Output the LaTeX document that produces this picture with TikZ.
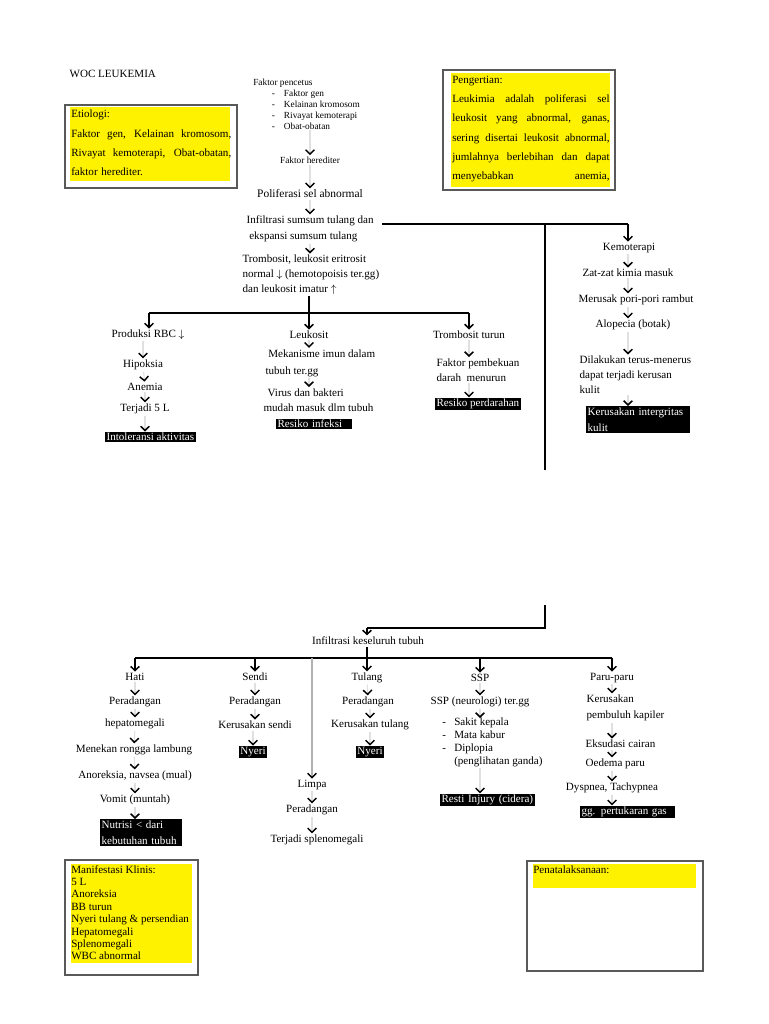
\documentclass[tikz,border=0pt]{standalone}
\usepackage{fontspec}
\setmainfont{Liberation Serif}
\usetikzlibrary{arrows.meta,positioning}

\newcommand{\fs}{\fontsize{8.3}{10}\selectfont}
\newcommand{\fsmall}{\fontsize{7}{8.25}\selectfont}
\newcommand{\itemdash}[1]{\makebox[9pt][l]{-}#1}
\newcommand{\spreadline}[2]{\makebox[#1][s]{\spaceskip=0pt\xspaceskip=0pt\relax #2}}

\begin{document}
\begin{tikzpicture}[x=0.75pt,y=-0.75pt,
    txt/.style={inner sep=1pt,font=\fs,align=center},
    ltxt/.style={txt,anchor=west,align=left},
    warn/.style={fill=black,text=white,inner sep=1pt,font=\fs,anchor=west,align=left},
    flow/.style={every edge/.style={draw=black!12,line width=0.8pt,
                 -{Straight Barb[length=3.2pt,width=6.5pt,line width=1.1pt,color=black]}}},
    stem/.style={every edge/.style={draw=black,line width=0.8pt,
                 -{Straight Barb[length=3.2pt,width=6.5pt,line width=1.1pt]}}},
    trunk/.style={draw,line width=0.9pt},
    frame/.style={draw=black!65,line width=0.9pt},
    note/.style={fill=yellow}]
\useasboundingbox (0,0) rectangle (768,1024);

% heading and the two top boxes
\node[ltxt] (title) at (68,74) {WOC LEUKEMIA};

\draw[frame] (65,105) rectangle (237,188);
\fill[note] (70,107) rectangle (230,181);
\node[anchor=north west,inner sep=0pt,text width=120pt,align=left,
      font=\fontsize{8.3}{14.4}\selectfont] (etiologi) at (71,110)
  {Etiologi:\\
   \spreadline{120pt}{Faktor gen, Kelainan kromosom,}\\
   \spreadline{120pt}{Rivayat kemoterapi, Obat-obatan,}\\
   faktor herediter.};

\draw[frame] (443,70) rectangle (615,190);
\fill[note] (451,73) rectangle (610,187);
\node[anchor=north west,inner sep=0pt,text width=118pt,align=left,
      font=\fontsize{8.3}{14.4}\selectfont] (pengertian) at (452,76)
  {Pengertian:\\
   \spreadline{118pt}{Leukimia adalah poliferasi sel}\\
   \spreadline{118pt}{leukosit yang abnormal, ganas,}\\
   \spreadline{118pt}{sering disertai leukosit abnormal,}\\
   \spreadline{118pt}{jumlahnya berlebihan dan dapat}\\
   \spreadline{118pt}{menyebabkan anemia,}};

% main chain
\node[anchor=north west,inner sep=0pt,align=left,font=\fsmall] (pencetus) at (253,79)
  {Faktor pencetus\\
   \hspace*{14pt}\itemdash{Faktor gen}\\
   \hspace*{14pt}\itemdash{Kelainan kromosom}\\
   \hspace*{14pt}\itemdash{Rivayat kemoterapi}\\
   \hspace*{14pt}\itemdash{Obat-obatan}};
\node[txt,font=\fsmall] (herediter) at (310,160) {Faktor herediter};
\node[txt,font=\fontsize{8.6}{10}\selectfont] (poliferasi) at (310,194) {Poliferasi sel abnormal};
\node[ltxt,font=\fontsize{8.3}{12}\selectfont] (infiltrasi) at (245,229)
  {Infiltrasi sumsum tulang dan\\\hspace*{2pt}ekspansi sumsum tulang};
\node[ltxt,font=\fontsize{8.3}{11.25}\selectfont] (trombosit) at (241,275)
  {Trombosit, leukosit eritrosit\\
   normal $\downarrow$ (hemotopoisis ter.gg)\\
   dan leukosit imatur $\uparrow$};

\path[flow] (pencetus.south -| herediter) edge (herediter)
  (herediter) edge (poliferasi)
  (poliferasi) edge (poliferasi |- infiltrasi.north)
  (infiltrasi.south -| poliferasi) edge (poliferasi |- trombosit.north);

% first branching
\coordinate (j1) at (309,313);
\coordinate (jL) at (149,313);
\coordinate (jR) at (469,313);
\draw[trunk] (trombosit.south -| j1) -- (j1);
\draw[trunk] (jL) -- (jR);

\node[txt] (produksi) at (148,335) {Produksi RBC $\downarrow$};
\node[txt] (hipoksia) at (143,365) {Hipoksia};
\node[txt] (anemia) at (145,387) {Anemia};
\node[txt] (limaL) at (145,409) {Terjadi 5 L};
\node[warn] (intoleransi) at (105,437) {Intoleransi aktivitas};

\node[txt] (leukosit) at (309,335) {Leukosit};
\node[ltxt,font=\fontsize{8.3}{12.75}\selectfont] (mekanisme) at (264,363)
  {\hspace*{2pt}Mekanisme imun dalam\\tubuh ter.gg};
\node[ltxt,font=\fontsize{8.3}{11.25}\selectfont] (virus) at (262,400)
  {\hspace*{3pt}Virus dan bakteri\\mudah masuk dlm tubuh};
\node[warn,text width=55pt] (infeksi) at (276,424) {Resiko infeksi};

\node[txt] (trombturun) at (469,335) {Trombosit turun};
\node[ltxt,font=\fontsize{8.3}{11.25}\selectfont] (pembekuan) at (435,370)
  {Faktor pembekuan\\darah~~menurun};
\node[warn] (perdarahan) at (435,404) {Resiko perdarahan};

\path[stem] (jL) edge (jL |- produksi.north)
  (j1) edge (leukosit)
  (jR) edge (trombturun);
\path[flow] (produksi.south -| hipoksia) edge (hipoksia)
  (hipoksia) edge (anemia)
  (anemia) edge (limaL)
  (limaL) edge (limaL |- intoleransi.north)
  (leukosit) edge (leukosit |- mekanisme.north)
  (mekanisme.south -| leukosit) edge (leukosit |- virus.north)
  (trombturun) edge (trombturun |- pembekuan.north)
  (pembekuan.south -| trombturun) edge (trombturun |- perdarahan.north);

% right branch
\coordinate (k0) at (382,224);
\coordinate (k1) at (628,224);
\coordinate (v0) at (545,224);
\coordinate (v1) at (545,470);
\draw[trunk] (k0) -- (k1);
\draw[trunk] (v0) -- (v1);

\node[txt] (kemo) at (629,248) {Kemoterapi};
\node[txt] (zat) at (628,273) {Zat-zat kimia masuk};
\node[txt] (pori) at (636,300) {Merusak pori-pori rambut};
\node[txt] (alopecia) at (633,325) {Alopecia (botak)};
\node[ltxt,font=\fontsize{8.3}{11.25}\selectfont] (terus) at (578,375)
  {Dilakukan terus-menerus\\dapat terjadi kerusan\\kulit};
\node[warn,anchor=north west,text width=76pt,font=\fontsize{8.3}{12}\selectfont] (integritas) at (586,406)
  {Kerusakan intergritas\\kulit};

\path[stem] (k1) edge (k1 |- kemo.north);
\path[flow] (kemo.south -| k1) edge (k1 |- zat.north)
  (zat.south -| k1) edge (k1 |- pori.north)
  (pori.south -| k1) edge (k1 |- alopecia.north)
  (alopecia.south -| k1) edge (k1 |- terus.north)
  (terus.south -| k1) edge (k1 |- integritas.north);

% second part
\coordinate (b0) at (545,605);
\coordinate (b1) at (545,628);
\coordinate (b2) at (367,628);
\draw[trunk] (b0) -- (b1) -- (b2);
\node[txt] (seluruh) at (368,641) {Infiltrasi keseluruh tubuh};
\path[stem] (b2) edge (b2 |- seluruh.north);

\coordinate (c0) at (367,658);
\coordinate (cHati) at (135,658);
\coordinate (cSendi) at (255,658);
\coordinate (cLimpa) at (312,658);
\coordinate (cSsp) at (480,658);
\coordinate (cParu) at (612,658);
\draw[trunk] (seluruh.south -| c0) -- (c0);
\draw[trunk] (cHati) -- (cParu);

\node[txt] (hati) at (135,677) {Hati};
\node[txt] (radang1) at (135,702) {Peradangan};
\node[txt] (hepato) at (135,724) {hepatomegali};
\node[txt] (menekan) at (134,750) {Menekan rongga lambung};
\node[txt] (anoreksia) at (135,776) {Anoreksia, navsea (mual)};
\node[txt] (vomit) at (135,800) {Vomit (muntah)};
\node[warn,anchor=north west,text width=59pt,font=\fontsize{8.3}{12}\selectfont] (nutrisi) at (100,819)
  {Nutrisi < dari\\kebutuhan tubuh};

\node[txt] (sendi) at (255,677) {Sendi};
\node[txt] (radang2) at (255,702) {Peradangan};
\node[txt] (kersendi) at (255,725) {Kerusakan sendi};
\node[warn,anchor=center] (nyeri1) at (253,752) {Nyeri};

\node[txt] (tulang) at (367,678) {Tulang};
\node[txt] (radang3) at (368,702) {Peradangan};
\node[txt] (kertulang) at (370,725) {Kerusakan tulang};
\node[warn,anchor=center] (nyeri2) at (370,752) {Nyeri};

\node[txt] (limpa) at (312,785) {Limpa};
\node[txt] (radang4) at (312,810) {Peradangan};
\node[txt] (spleno) at (317,840) {Terjadi splenomegali};

\node[txt] (ssp) at (480,678) {SSP};
\node[txt] (neuro) at (480,702) {SSP (neurologi) ter.gg};
\node[anchor=north west,inner sep=0pt,align=left,font=\fontsize{8.3}{9.75}\selectfont] (gejala) at (442,718)
  {\itemdash{Sakit kepala}\\
   \itemdash{Mata kabur}\\
   \itemdash{Diplopia}\\
   \hspace*{9pt}(penglihatan ganda)};
\node[warn,text width=69pt] (resti) at (440,800) {Resti Injury (cidera)};

\node[txt] (paru) at (612,678) {Paru-paru};
\node[ltxt,font=\fontsize{8.3}{12}\selectfont] (kapiler) at (585,708) {Kerusakan\\pembuluh kapiler};
\node[ltxt] (eksudasi) at (584,744) {Eksudasi cairan};
\node[ltxt] (oedema) at (584,764) {Oedema paru};
\node[txt] (dyspnea) at (612,788) {Dyspnea, Tachypnea};
\node[warn,text width=69pt] (gas) at (580,812) {gg. pertukaran gas};

\path[stem] (cHati) edge (hati)
  (cSendi) edge (sendi)
  (c0) edge (tulang)
  (cSsp) edge (ssp)
  (cParu) edge (paru);
\path[flow] (hati) edge (radang1)
  (radang1) edge (hepato)
  (hepato) edge (menekan)
  (menekan) edge (anoreksia)
  (anoreksia) edge (vomit)
  (vomit) edge (vomit |- nutrisi.north)
  (sendi) edge (radang2)
  (radang2) edge (kersendi)
  (kersendi.south -| nyeri1) edge (nyeri1)
  (tulang) edge (radang3)
  (radang3.south -| kertulang) edge (kertulang)
  (kertulang.south -| nyeri2) edge (nyeri2)
  (limpa) edge (radang4)
  (radang4) edge (radang4 |- spleno.north)
  (ssp) edge (neuro)
  (neuro.south -| ssp) edge (ssp |- gejala.north)
  (gejala.south -| ssp) edge (ssp |- resti.north)
  (paru) edge (paru |- kapiler.north)
  (kapiler.south -| paru) edge (paru |- eksudasi.north)
  (eksudasi.south -| paru) edge (paru |- oedema.north)
  (oedema.south -| paru) edge (dyspnea)
  (dyspnea) edge (paru |- gas.north)
  (cLimpa) edge[draw=black!30] (limpa);

% bottom boxes
\draw[frame] (65,860) rectangle (198,975);
\fill[note] (71,864) rectangle (192,963);
\node[anchor=north west,inner sep=0pt,align=left,font=\fontsize{8.3}{9.3}\selectfont] (manifestasi) at (71,865)
  {Manifestasi Klinis:\\5 L\\Anoreksia\\BB turun\\Nyeri tulang \& persendian\\Hepatomegali\\Splenomegali\\WBC abnormal};

\draw[frame] (527,861) rectangle (703,971);
\fill[note] (533,864) rectangle (696,888);
\node[anchor=north west,inner sep=0pt,font=\fs] (penatalaksanaan) at (533,866) {Penatalaksanaan:};
\end{tikzpicture}
\end{document}
